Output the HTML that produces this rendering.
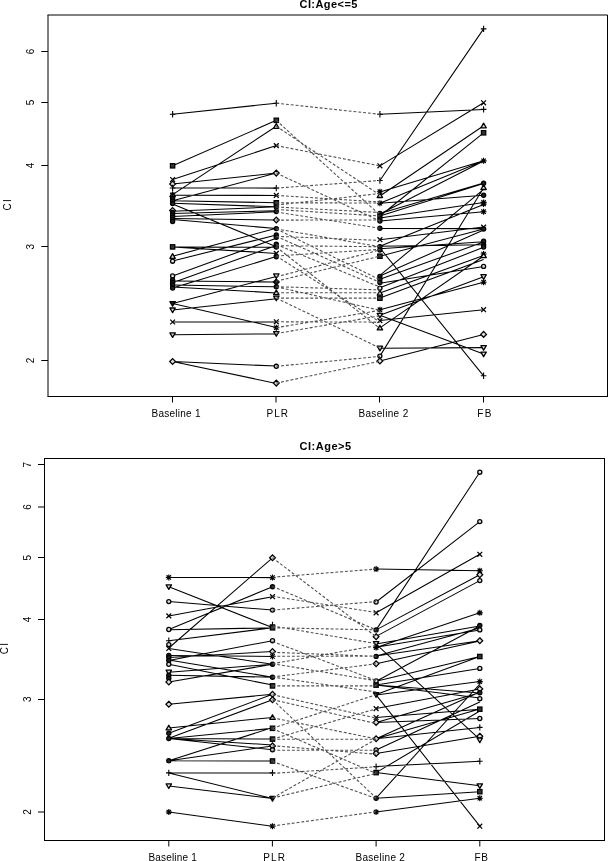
<!DOCTYPE html>
<html><head><meta charset="utf-8"><style>
html,body{margin:0;padding:0;background:#fff;}
svg{display:block;}
text{font-family:"Liberation Sans",Arial,sans-serif;fill:#000;}
.t{font-weight:bold;font-size:11px;}
.a{font-size:10px;}
</style></head><body>
<svg width="608" height="861" viewBox="0 0 608 861">
<rect width="608" height="861" fill="#fff"/>
<!-- top panel frame -->
<g fill="none" stroke="#000" stroke-width="1">
<path d="M48 15V396.5M47.5 15H607.5M607.5 15V396.5M47.5 396.5H608"/>
<path d="M41.3 51.5H48M41.3 102.5H48M41.3 165.5H48M41.3 246.5H48M41.3 360.5H48"/>
<path d="M172.5 396V402.5M276 396V402.5M379.5 396V402.5M483.5 396V402.5"/>
</g>
<!-- bottom panel frame -->
<g fill="none" stroke="#000" stroke-width="1">
<path d="M44.5 458V840.5M44 458.5H604.5M604.5 458V840.5M44 840.5H605"/>
<path d="M38 464.5H44.5M38 507H44.5M38 557.5H44.5M38 619.5H44.5M38 699.5H44.5M38 812H44.5"/>
<path d="M168.8 840.5V846.5M272.4 840.5V846.5M376.1 840.5V846.5M479.8 840.5V846.5"/>
</g>
<text class="t" x="299.5" y="8.2" textLength="57.9">CI:Age&lt;=5</text>
<text class="t" x="299.5" y="450.1" textLength="51.6">CI:Age&gt;5</text>
<g class="a">
<text class="a" transform="translate(34 51.4) rotate(-90)" text-anchor="middle">6</text>
<text class="a" transform="translate(34 102.4) rotate(-90)" text-anchor="middle">5</text>
<text class="a" transform="translate(34 165.5) rotate(-90)" text-anchor="middle">4</text>
<text class="a" transform="translate(34 246.7) rotate(-90)" text-anchor="middle">3</text>
<text class="a" transform="translate(34 360.5) rotate(-90)" text-anchor="middle">2</text>
<text class="a" transform="translate(10.9 204.9) rotate(-90)" text-anchor="middle" textLength="11.4">CI</text>
<text class="a" x="151.5" y="417" textLength="49">Baseline 1</text>
<text class="a" x="266.5" y="417" textLength="21.4">PLR</text>
<text class="a" x="358.4" y="417" textLength="49.8">Baseline 2</text>
<text class="a" x="477.2" y="417" textLength="14.2">FB</text>

<text class="a" transform="translate(30.9 464.7) rotate(-90)" text-anchor="middle">7</text>
<text class="a" transform="translate(30.9 507) rotate(-90)" text-anchor="middle">6</text>
<text class="a" transform="translate(30.9 557.6) rotate(-90)" text-anchor="middle">5</text>
<text class="a" transform="translate(30.9 619.5) rotate(-90)" text-anchor="middle">4</text>
<text class="a" transform="translate(30.9 699.3) rotate(-90)" text-anchor="middle">3</text>
<text class="a" transform="translate(30.9 812) rotate(-90)" text-anchor="middle">2</text>
<text class="a" transform="translate(8.4 648.6) rotate(-90)" text-anchor="middle" textLength="11.4">CI</text>
<text class="a" x="148.4" y="860.5" textLength="48.4">Baseline 1</text>
<text class="a" x="263.3" y="860.5" textLength="21.6">PLR</text>
<text class="a" x="355.5" y="860.5" textLength="49.4">Baseline 2</text>
<text class="a" x="474.4" y="860.5" textLength="13.4">FB</text>
</g>
<path d="M172.6 114.2L276.3 103.2M172.6 165.8L276.3 120.3M172.6 179.5L276.3 145.6M172.6 184.0L276.3 173.1M172.6 188.0L276.3 188.1M172.6 194.6L276.3 126.3M172.6 195.2L276.3 195.4M172.6 200.7L276.3 173.1M172.6 200.7L276.3 202.8M172.6 203.3L276.3 206.8M172.6 204.0L276.3 246.7M172.6 211.2L276.3 206.8M172.6 213.5L276.3 210.7M172.6 216.5L276.3 211.8M172.6 218.5L276.3 220.1M172.6 219.5L276.3 228.6M172.6 246.9L276.3 247.3M172.6 246.9L276.3 253.4M172.6 256.3L276.3 228.3M172.6 261.0L276.3 235.0M172.6 276.0L276.3 238.2M172.6 282.7L276.3 245.4M172.6 288.0L276.3 256.6M172.6 281.0L276.3 282.0M172.6 285.0L276.3 286.8M172.6 287.0L276.3 292.9M172.6 303.6L276.3 276.4M172.6 310.0L276.3 298.8M172.6 322.0L276.3 322.0M172.6 303.6L276.3 327.4M172.6 334.8L276.3 333.9M172.6 361.5L276.3 366.1M172.6 361.5L276.3 383.4" fill="none" stroke="#000" stroke-width="1.05"/>
<path d="M379.9 114.3L483.6 109.4M379.9 165.9L483.6 102.8M379.9 180.5L483.6 28.9M379.9 196.0L483.6 125.8M379.9 216.0L483.6 132.8M379.9 191.9L483.6 160.8M379.9 203.2L483.6 160.8M379.9 214.0L483.6 161.0M379.9 213.6L483.6 182.9M379.9 203.3L483.6 195.2M379.9 216.0L483.6 183.6M379.9 218.0L483.6 202.4M379.9 221.0L483.6 211.7M379.9 228.4L483.6 228.6M379.9 239.8L483.6 227.1M379.9 246.3L483.6 204.5M379.9 246.3L483.6 244.7M379.9 248.7L483.6 241.8M379.9 256.2L483.6 229.0M379.9 276.0L483.6 230.0M379.9 275.3L483.6 189.4M379.9 279.3L483.6 242.0M379.9 283.2L483.6 266.4M379.9 287.8L483.6 247.3M379.9 293.1L483.6 255.6M379.9 297.9L483.6 259.4M379.9 309.7L483.6 282.2M379.9 315.3L483.6 276.7M379.9 315.3L483.6 354.1M379.9 320.6L483.6 309.7M379.9 327.9L483.6 256.0M379.9 348.2L483.6 347.6M379.9 356.1L483.6 188.0M379.9 361.0L483.6 334.4M379.9 248.0L483.6 375.8" fill="none" stroke="#000" stroke-width="1.05"/>
<path d="M169.8 114.2H175.4M172.6 111.0V117.4" fill="none" stroke="#000" stroke-width="1.1"/>
<rect x="170.4" y="163.6" width="4.4" height="4.4" fill="#333" stroke="#000" stroke-width="1.2"/>
<path d="M170.2 177.1L175.0 181.9M170.2 181.9L175.0 177.1" fill="none" stroke="#000" stroke-width="1.25"/>
<path d="M172.6 181.1L175.5 184.0L172.6 186.9L169.7 184.0Z" fill="#ddd" stroke="#000" stroke-width="1.25"/>
<path d="M169.8 188.0H175.4M172.6 184.8V191.2" fill="none" stroke="#000" stroke-width="1.1"/>
<path d="M172.6 192.0L175.3 196.6H169.9Z" fill="#ddd" stroke="#000" stroke-width="1.3" stroke-linejoin="round"/>
<path d="M170.2 192.8L175.0 197.6M170.2 197.6L175.0 192.8" fill="none" stroke="#000" stroke-width="1.25"/>
<circle cx="172.6" cy="198.5" r="2.1" fill="#222" stroke="#000" stroke-width="1.2"/>
<circle cx="172.6" cy="201.0" r="2.1" fill="#222" stroke="#000" stroke-width="1.2"/>
<circle cx="172.6" cy="203.5" r="2.1" fill="#222" stroke="#000" stroke-width="1.2"/>
<path d="M172.6 207.6L175.5 210.5L172.6 213.4L169.7 210.5Z" fill="#ddd" stroke="#000" stroke-width="1.25"/>
<circle cx="172.6" cy="212.5" r="2.1" fill="#222" stroke="#000" stroke-width="1.2"/>
<circle cx="172.6" cy="215.0" r="2.1" fill="#222" stroke="#000" stroke-width="1.2"/>
<circle cx="172.6" cy="217.3" r="2.1" fill="#222" stroke="#000" stroke-width="1.2"/>
<circle cx="172.6" cy="219.6" r="2.1" fill="#222" stroke="#000" stroke-width="1.2"/>
<circle cx="172.6" cy="221.5" r="2.1" fill="#222" stroke="#000" stroke-width="1.2"/>
<rect x="170.4" y="244.7" width="4.4" height="4.4" fill="#333" stroke="#000" stroke-width="1.2"/>
<path d="M172.6 253.7L175.3 258.3H169.9Z" fill="#ddd" stroke="#000" stroke-width="1.3" stroke-linejoin="round"/>
<circle cx="172.6" cy="261.2" r="2.05" fill="#ddd" stroke="#000" stroke-width="1.3"/>
<circle cx="172.6" cy="276.0" r="2.05" fill="#ddd" stroke="#000" stroke-width="1.3"/>
<circle cx="172.6" cy="280.0" r="2.1" fill="#222" stroke="#000" stroke-width="1.2"/>
<circle cx="172.6" cy="282.5" r="2.1" fill="#222" stroke="#000" stroke-width="1.2"/>
<circle cx="172.6" cy="285.0" r="2.1" fill="#222" stroke="#000" stroke-width="1.2"/>
<circle cx="172.6" cy="288.0" r="2.1" fill="#222" stroke="#000" stroke-width="1.2"/>
<path d="M172.6 306.2L175.3 301.6H169.9Z" fill="#222" stroke="#000" stroke-width="1.3" stroke-linejoin="round"/>
<path d="M172.6 312.6L175.3 308.0H169.9Z" fill="#ddd" stroke="#000" stroke-width="1.3" stroke-linejoin="round"/>
<path d="M170.2 319.6L175.0 324.4M170.2 324.4L175.0 319.6" fill="none" stroke="#000" stroke-width="1.25"/>
<path d="M172.6 337.4L175.3 332.8H169.9Z" fill="#ddd" stroke="#000" stroke-width="1.3" stroke-linejoin="round"/>
<path d="M172.6 358.6L175.5 361.5L172.6 364.4L169.7 361.5Z" fill="#ddd" stroke="#000" stroke-width="1.25"/>
<path d="M273.5 103.2H279.1M276.3 100.0V106.4" fill="none" stroke="#000" stroke-width="1.1"/>
<rect x="274.1" y="118.1" width="4.4" height="4.4" fill="#333" stroke="#000" stroke-width="1.2"/>
<path d="M276.3 123.7L279.0 128.3H273.6Z" fill="#ddd" stroke="#000" stroke-width="1.3" stroke-linejoin="round"/>
<path d="M273.9 143.2L278.7 148.0M273.9 148.0L278.7 143.2" fill="none" stroke="#000" stroke-width="1.25"/>
<path d="M276.3 170.2L279.2 173.1L276.3 176.0L273.4 173.1Z" fill="#ddd" stroke="#000" stroke-width="1.25"/>
<path d="M273.5 188.1H279.1M276.3 184.9V191.3" fill="none" stroke="#000" stroke-width="1.1"/>
<path d="M273.9 193.0L278.7 197.8M273.9 197.8L278.7 193.0" fill="none" stroke="#000" stroke-width="1.25"/>
<rect x="274.1" y="200.6" width="4.4" height="4.4" fill="#333" stroke="#000" stroke-width="1.2"/>
<circle cx="276.3" cy="206.9" r="2.1" fill="#222" stroke="#000" stroke-width="1.2"/>
<circle cx="276.3" cy="211.5" r="2.1" fill="#222" stroke="#000" stroke-width="1.2"/>
<path d="M276.3 217.1L279.2 220.0L276.3 222.9L273.4 220.0Z" fill="#ddd" stroke="#000" stroke-width="1.25"/>
<circle cx="276.3" cy="228.6" r="2.1" fill="#222" stroke="#000" stroke-width="1.2"/>
<circle cx="276.3" cy="235.0" r="2.1" fill="#222" stroke="#000" stroke-width="1.2"/>
<circle cx="276.3" cy="237.3" r="2.1" fill="#222" stroke="#000" stroke-width="1.2"/>
<circle cx="276.3" cy="244.2" r="2.1" fill="#222" stroke="#000" stroke-width="1.2"/>
<circle cx="276.3" cy="247.0" r="2.1" fill="#222" stroke="#000" stroke-width="1.2"/>
<path d="M273.9 251.0L278.7 255.8M273.9 255.8L278.7 251.0" fill="none" stroke="#000" stroke-width="1.25"/>
<circle cx="276.3" cy="256.8" r="2.1" fill="#222" stroke="#000" stroke-width="1.2"/>
<path d="M276.3 278.5L279.0 273.9H273.6Z" fill="#ddd" stroke="#000" stroke-width="1.3" stroke-linejoin="round"/>
<path d="M276.3 279.1L279.2 282.0L276.3 284.9L273.4 282.0Z" fill="#222" stroke="#000" stroke-width="1.25"/>
<circle cx="276.3" cy="286.8" r="2.1" fill="#222" stroke="#000" stroke-width="1.2"/>
<path d="M276.3 290.1L279.0 294.7H273.6Z" fill="#ddd" stroke="#000" stroke-width="1.3" stroke-linejoin="round"/>
<path d="M276.3 300.7L279.0 296.1H273.6Z" fill="#ddd" stroke="#000" stroke-width="1.3" stroke-linejoin="round"/>
<path d="M273.9 319.4L278.7 324.2M273.9 324.2L278.7 319.4" fill="none" stroke="#000" stroke-width="1.25"/>
<path d="M273.3 327.7H279.3M276.3 324.7V330.7M274.1 325.5L278.5 329.9M274.1 329.9L278.5 325.5" fill="none" stroke="#000" stroke-width="1.15"/>
<path d="M276.3 336.2L279.0 331.6H273.6Z" fill="#ddd" stroke="#000" stroke-width="1.3" stroke-linejoin="round"/>
<circle cx="276.3" cy="366.3" r="2.05" fill="#ddd" stroke="#000" stroke-width="1.3"/>
<path d="M276.3 380.2L279.2 383.1L276.3 386.0L273.4 383.1Z" fill="#ddd" stroke="#000" stroke-width="1.25"/>
<path d="M377.1 114.3H382.7M379.9 111.1V117.5" fill="none" stroke="#000" stroke-width="1.1"/>
<path d="M377.5 163.4L382.3 168.2M377.5 168.2L382.3 163.4" fill="none" stroke="#000" stroke-width="1.25"/>
<path d="M377.1 180.5H382.7M379.9 177.3V183.7" fill="none" stroke="#000" stroke-width="1.1"/>
<path d="M376.9 191.7H382.9M379.9 188.7V194.7M377.7 189.5L382.1 193.9M377.7 193.9L382.1 189.5" fill="none" stroke="#000" stroke-width="1.15"/>
<path d="M379.9 192.9L382.6 197.5H377.2Z" fill="#ddd" stroke="#000" stroke-width="1.3" stroke-linejoin="round"/>
<path d="M376.9 203.2H382.9M379.9 200.2V206.2M377.7 201.0L382.1 205.4M377.7 205.4L382.1 201.0" fill="none" stroke="#000" stroke-width="1.15"/>
<circle cx="379.9" cy="213.5" r="2.1" fill="#222" stroke="#000" stroke-width="1.2"/>
<circle cx="379.9" cy="216.0" r="2.1" fill="#222" stroke="#000" stroke-width="1.2"/>
<circle cx="379.9" cy="218.5" r="2.1" fill="#222" stroke="#000" stroke-width="1.2"/>
<circle cx="379.9" cy="221.0" r="2.1" fill="#222" stroke="#000" stroke-width="1.2"/>
<circle cx="379.9" cy="228.3" r="2.1" fill="#222" stroke="#000" stroke-width="1.2"/>
<path d="M377.5 237.3L382.3 242.1M377.5 242.1L382.3 237.3" fill="none" stroke="#000" stroke-width="1.25"/>
<circle cx="379.9" cy="246.6" r="2.1" fill="#222" stroke="#000" stroke-width="1.2"/>
<circle cx="379.9" cy="250.0" r="2.1" fill="#222" stroke="#000" stroke-width="1.2"/>
<rect x="377.7" y="254.0" width="4.4" height="4.4" fill="#333" stroke="#000" stroke-width="1.2"/>
<circle cx="379.9" cy="276.5" r="2.1" fill="#222" stroke="#000" stroke-width="1.2"/>
<circle cx="379.9" cy="279.3" r="2.1" fill="#222" stroke="#000" stroke-width="1.2"/>
<circle cx="379.9" cy="282.4" r="2.1" fill="#222" stroke="#000" stroke-width="1.2"/>
<circle cx="379.9" cy="288.2" r="2.05" fill="#ddd" stroke="#000" stroke-width="1.3"/>
<path d="M379.9 290.5L382.6 295.1H377.2Z" fill="#ddd" stroke="#000" stroke-width="1.3" stroke-linejoin="round"/>
<rect x="377.7" y="296.0" width="4.4" height="4.4" fill="#333" stroke="#000" stroke-width="1.2"/>
<path d="M376.9 309.7H382.9M379.9 306.7V312.7M377.7 307.5L382.1 311.9M377.7 311.9L382.1 307.5" fill="none" stroke="#000" stroke-width="1.15"/>
<path d="M379.9 317.9L382.6 313.3H377.2Z" fill="#ddd" stroke="#000" stroke-width="1.3" stroke-linejoin="round"/>
<path d="M377.5 318.2L382.3 323.0M377.5 323.0L382.3 318.2" fill="none" stroke="#000" stroke-width="1.25"/>
<path d="M379.9 325.3L382.6 329.9H377.2Z" fill="#ddd" stroke="#000" stroke-width="1.3" stroke-linejoin="round"/>
<path d="M379.9 350.8L382.6 346.2H377.2Z" fill="#ddd" stroke="#000" stroke-width="1.3" stroke-linejoin="round"/>
<circle cx="379.9" cy="356.1" r="2.05" fill="#ddd" stroke="#000" stroke-width="1.3"/>
<path d="M379.9 358.1L382.8 361.0L379.9 363.9L377.0 361.0Z" fill="#ddd" stroke="#000" stroke-width="1.25"/>
<path d="M480.8 28.9H486.4M483.6 25.7V32.1" fill="none" stroke="#000" stroke-width="1.1"/>
<path d="M481.2 100.4L486.0 105.2M481.2 105.2L486.0 100.4" fill="none" stroke="#000" stroke-width="1.25"/>
<path d="M480.8 109.4H486.4M483.6 106.2V112.6" fill="none" stroke="#000" stroke-width="1.1"/>
<path d="M483.6 123.2L486.3 127.8H480.9Z" fill="#ddd" stroke="#000" stroke-width="1.3" stroke-linejoin="round"/>
<rect x="481.4" y="130.6" width="4.4" height="4.4" fill="#333" stroke="#000" stroke-width="1.2"/>
<path d="M480.6 160.8H486.6M483.6 157.8V163.8M481.4 158.6L485.8 163.0M481.4 163.0L485.8 158.6" fill="none" stroke="#000" stroke-width="1.15"/>
<circle cx="483.6" cy="183.3" r="2.1" fill="#222" stroke="#000" stroke-width="1.2"/>
<path d="M483.6 184.9L486.3 189.5H480.9Z" fill="#ddd" stroke="#000" stroke-width="1.3" stroke-linejoin="round"/>
<circle cx="483.6" cy="195.3" r="2.1" fill="#222" stroke="#000" stroke-width="1.2"/>
<path d="M480.6 202.4H486.6M483.6 199.4V205.4M481.4 200.2L485.8 204.6M481.4 204.6L485.8 200.2" fill="none" stroke="#000" stroke-width="1.15"/>
<path d="M480.6 204.0H486.6M483.6 201.0V207.0M481.4 201.8L485.8 206.2M481.4 206.2L485.8 201.8" fill="none" stroke="#000" stroke-width="1.15"/>
<path d="M480.6 211.7H486.6M483.6 208.7V214.7M481.4 209.5L485.8 213.9M481.4 213.9L485.8 209.5" fill="none" stroke="#000" stroke-width="1.15"/>
<path d="M481.2 224.7L486.0 229.5M481.2 229.5L486.0 224.7" fill="none" stroke="#000" stroke-width="1.25"/>
<circle cx="483.6" cy="229.0" r="2.1" fill="#222" stroke="#000" stroke-width="1.2"/>
<circle cx="483.6" cy="241.3" r="2.1" fill="#222" stroke="#000" stroke-width="1.2"/>
<circle cx="483.6" cy="244.7" r="2.1" fill="#222" stroke="#000" stroke-width="1.2"/>
<circle cx="483.6" cy="247.0" r="2.1" fill="#222" stroke="#000" stroke-width="1.2"/>
<path d="M480.6 254.0H486.6M483.6 251.0V257.0M481.4 251.8L485.8 256.2M481.4 256.2L485.8 251.8" fill="none" stroke="#000" stroke-width="1.15"/>
<path d="M483.6 253.0L486.3 257.6H480.9Z" fill="#ddd" stroke="#000" stroke-width="1.3" stroke-linejoin="round"/>
<circle cx="483.6" cy="266.4" r="2.05" fill="#ddd" stroke="#000" stroke-width="1.3"/>
<path d="M483.6 279.3L486.3 274.7H480.9Z" fill="#ddd" stroke="#000" stroke-width="1.3" stroke-linejoin="round"/>
<path d="M480.6 282.2H486.6M483.6 279.2V285.2M481.4 280.0L485.8 284.4M481.4 284.4L485.8 280.0" fill="none" stroke="#000" stroke-width="1.15"/>
<path d="M481.2 307.3L486.0 312.1M481.2 312.1L486.0 307.3" fill="none" stroke="#000" stroke-width="1.25"/>
<path d="M483.6 331.5L486.5 334.4L483.6 337.3L480.7 334.4Z" fill="#ddd" stroke="#000" stroke-width="1.25"/>
<path d="M483.6 350.2L486.3 345.6H480.9Z" fill="#ddd" stroke="#000" stroke-width="1.3" stroke-linejoin="round"/>
<path d="M483.6 356.7L486.3 352.1H480.9Z" fill="#ddd" stroke="#000" stroke-width="1.3" stroke-linejoin="round"/>
<path d="M480.8 375.8H486.4M483.6 372.6V379.0" fill="none" stroke="#000" stroke-width="1.1"/>
<path d="M276.3 103.2L379.9 114.3M276.3 145.6L379.9 165.9M276.3 120.3L379.9 215.0M276.3 126.3L379.9 195.0M276.3 173.1L379.9 221.0M276.3 188.1L379.9 180.5M276.3 195.4L379.9 202.0M276.3 202.8L379.9 203.0M276.3 205.0L379.9 193.5M276.3 207.0L379.9 212.5M276.3 209.5L379.9 216.0M276.3 212.0L379.9 228.3M276.3 220.1L379.9 220.0M276.3 228.9L379.9 246.7M276.3 228.9L379.9 279.7M276.3 236.3L379.9 240.4M276.3 236.3L379.9 282.4M276.3 245.7L379.9 246.7M276.3 244.5L379.9 287.0M276.3 256.0L379.9 249.4M276.3 256.0L379.9 322.0M276.3 247.0L379.9 328.4M276.3 276.8L379.9 250.0M276.3 281.2L379.9 256.2M276.3 286.7L379.9 289.9M276.3 286.8L379.9 310.3M276.3 292.7L379.9 292.7M276.3 298.1L379.9 298.1M276.3 298.1L379.9 348.0M276.3 321.8L379.9 322.1M276.3 327.7L379.9 310.3M276.3 333.6L379.9 315.8M276.3 366.3L379.9 356.4M276.3 383.1L379.9 361.2" fill="none" stroke="#505050" stroke-width="1.1" stroke-dasharray="2.9 1.95"/>
<path d="M168.8 577.4L272.5 577.6M168.8 586.8L272.5 627.6M168.8 601.6L272.5 610.1M168.8 615.9L272.5 596.7M168.8 629.5L272.5 586.8M168.8 629.8L272.5 627.8M168.8 640.7L272.5 627.8M168.8 648.0L272.5 557.8M168.8 648.5L272.5 664.3M168.8 655.5L272.5 656.4M168.8 657.4L272.5 651.5M168.8 660.4L272.5 640.7M168.8 664.3L272.5 685.1M168.8 660.0L272.5 677.2M168.8 672.2L272.5 664.3M168.8 675.2L272.5 677.2M168.8 682.1L272.5 664.3M168.8 704.2L272.5 694.3M168.8 733.2L272.5 694.3M168.8 738.3L272.5 699.7M168.8 727.9L272.5 717.4M168.8 738.5L272.5 728.3M168.8 738.5L272.5 739.1M168.8 738.5L272.5 745.0M168.8 760.7L272.5 727.6M168.8 760.7L272.5 745.9M168.8 760.7L272.5 761.0M168.8 772.9L272.5 772.9M168.8 772.9L272.5 798.5M168.8 785.9L272.5 798.5M168.8 812.0L272.5 826.2M168.8 738.5L272.5 749.8" fill="none" stroke="#000" stroke-width="1.05"/>
<path d="M376.1 569.0L479.8 570.7M376.1 602.0L479.8 521.6M376.1 612.8L479.8 554.3M376.1 629.9L479.8 472.2M376.1 629.9L479.8 574.7M376.1 636.4L479.8 580.6M376.1 647.6L479.8 612.8M376.1 644.1L479.8 625.9M376.1 647.2L479.8 629.9M376.1 644.1L479.8 739.4M376.1 656.1L479.8 628.0M376.1 656.1L479.8 640.7M376.1 681.2L479.8 626.0M376.1 681.2L479.8 656.5M376.1 685.1L479.8 668.4M376.1 685.1L479.8 693.0M376.1 694.6L479.8 656.5M376.1 694.8L479.8 826.2M376.1 684.9L479.8 698.0M376.1 708.6L479.8 688.9M376.1 717.5L479.8 709.2M376.1 722.4L479.8 692.8M376.1 722.4L479.8 718.5M376.1 738.8L479.8 692.0M376.1 738.8L479.8 709.0M376.1 738.8L479.8 727.4M376.1 753.4L479.8 736.2M376.1 749.9L479.8 701.9M376.1 766.6L479.8 761.3M376.1 772.6L479.8 711.0M376.1 772.6L479.8 785.8M376.1 798.2L479.8 684.0M376.1 798.2L479.8 791.7M376.1 812.0L479.8 798.2M376.1 663.8L479.8 641.0M376.1 695.0L479.8 681.6" fill="none" stroke="#000" stroke-width="1.05"/>
<path d="M165.8 577.4H171.8M168.8 574.4V580.4M166.6 575.2L171.0 579.6M166.6 579.6L171.0 575.2" fill="none" stroke="#000" stroke-width="1.15"/>
<path d="M168.8 589.4L171.5 584.8H166.1Z" fill="#ddd" stroke="#000" stroke-width="1.3" stroke-linejoin="round"/>
<circle cx="168.8" cy="601.6" r="2.05" fill="#ddd" stroke="#000" stroke-width="1.3"/>
<path d="M166.4 613.5L171.2 618.3M166.4 618.3L171.2 613.5" fill="none" stroke="#000" stroke-width="1.25"/>
<circle cx="168.8" cy="629.5" r="2.05" fill="#ddd" stroke="#000" stroke-width="1.3"/>
<path d="M166.0 640.7H171.6M168.8 637.5V643.9" fill="none" stroke="#000" stroke-width="1.1"/>
<circle cx="168.8" cy="644.6" r="2.05" fill="#ddd" stroke="#000" stroke-width="1.3"/>
<path d="M166.4 646.1L171.2 650.9M166.4 650.9L171.2 646.1" fill="none" stroke="#000" stroke-width="1.25"/>
<circle cx="168.8" cy="655.5" r="2.1" fill="#222" stroke="#000" stroke-width="1.2"/>
<circle cx="168.8" cy="657.4" r="2.1" fill="#222" stroke="#000" stroke-width="1.2"/>
<circle cx="168.8" cy="660.4" r="2.1" fill="#222" stroke="#000" stroke-width="1.2"/>
<circle cx="168.8" cy="664.3" r="2.05" fill="#ddd" stroke="#000" stroke-width="1.3"/>
<path d="M168.8 674.8L171.5 670.2H166.1Z" fill="#ddd" stroke="#000" stroke-width="1.3" stroke-linejoin="round"/>
<circle cx="168.8" cy="675.2" r="2.1" fill="#222" stroke="#000" stroke-width="1.2"/>
<circle cx="168.8" cy="678.2" r="2.1" fill="#222" stroke="#000" stroke-width="1.2"/>
<path d="M168.8 679.1L171.7 682.0L168.8 684.9L165.9 682.0Z" fill="#ddd" stroke="#000" stroke-width="1.25"/>
<path d="M168.8 701.3L171.7 704.2L168.8 707.1L165.9 704.2Z" fill="#ddd" stroke="#000" stroke-width="1.25"/>
<path d="M168.8 725.3L171.5 729.9H166.1Z" fill="#ddd" stroke="#000" stroke-width="1.3" stroke-linejoin="round"/>
<circle cx="168.8" cy="733.2" r="2.1" fill="#222" stroke="#000" stroke-width="1.2"/>
<circle cx="168.8" cy="738.5" r="2.1" fill="#222" stroke="#000" stroke-width="1.2"/>
<circle cx="168.8" cy="760.7" r="2.1" fill="#222" stroke="#000" stroke-width="1.2"/>
<path d="M166.0 772.9H171.6M168.8 769.7V776.1" fill="none" stroke="#000" stroke-width="1.1"/>
<path d="M168.8 788.5L171.5 783.9H166.1Z" fill="#ddd" stroke="#000" stroke-width="1.3" stroke-linejoin="round"/>
<path d="M165.8 812.0H171.8M168.8 809.0V815.0M166.6 809.8L171.0 814.2M166.6 814.2L171.0 809.8" fill="none" stroke="#000" stroke-width="1.15"/>
<path d="M272.5 554.9L275.4 557.8L272.5 560.7L269.6 557.8Z" fill="#ddd" stroke="#000" stroke-width="1.25"/>
<path d="M269.5 577.6H275.5M272.5 574.6V580.6M270.3 575.4L274.7 579.8M270.3 579.8L274.7 575.4" fill="none" stroke="#000" stroke-width="1.15"/>
<circle cx="272.5" cy="586.8" r="2.1" fill="#222" stroke="#000" stroke-width="1.2"/>
<path d="M270.1 594.3L274.9 599.1M270.1 599.1L274.9 594.3" fill="none" stroke="#000" stroke-width="1.25"/>
<circle cx="272.5" cy="610.1" r="2.05" fill="#ddd" stroke="#000" stroke-width="1.3"/>
<path d="M269.7 624.9H275.3M272.5 621.7V628.1" fill="none" stroke="#000" stroke-width="1.1"/>
<rect x="270.3" y="625.6" width="4.4" height="4.4" fill="#333" stroke="#000" stroke-width="1.2"/>
<circle cx="272.5" cy="640.7" r="2.05" fill="#ddd" stroke="#000" stroke-width="1.3"/>
<path d="M272.5 648.6L275.4 651.5L272.5 654.4L269.6 651.5Z" fill="#ddd" stroke="#000" stroke-width="1.25"/>
<path d="M269.5 656.4H275.5M272.5 653.4V659.4M270.3 654.2L274.7 658.6M270.3 658.6L274.7 654.2" fill="none" stroke="#000" stroke-width="1.15"/>
<circle cx="272.5" cy="664.3" r="2.1" fill="#222" stroke="#000" stroke-width="1.2"/>
<circle cx="272.5" cy="677.2" r="2.1" fill="#222" stroke="#000" stroke-width="1.2"/>
<rect x="270.3" y="683.7" width="4.4" height="4.4" fill="#333" stroke="#000" stroke-width="1.2"/>
<path d="M272.5 691.4L275.4 694.3L272.5 697.2L269.6 694.3Z" fill="#ddd" stroke="#000" stroke-width="1.25"/>
<path d="M272.5 696.8L275.4 699.7L272.5 702.6L269.6 699.7Z" fill="#ddd" stroke="#000" stroke-width="1.25"/>
<path d="M272.5 714.8L275.2 719.4H269.8Z" fill="#ddd" stroke="#000" stroke-width="1.3" stroke-linejoin="round"/>
<rect x="270.3" y="726.1" width="4.4" height="4.4" fill="#333" stroke="#000" stroke-width="1.2"/>
<rect x="270.3" y="736.9" width="4.4" height="4.4" fill="#333" stroke="#000" stroke-width="1.2"/>
<path d="M272.5 743.0L275.4 745.9L272.5 748.8L269.6 745.9Z" fill="#ddd" stroke="#000" stroke-width="1.25"/>
<circle cx="272.5" cy="749.8" r="2.05" fill="#ddd" stroke="#000" stroke-width="1.3"/>
<rect x="270.3" y="758.8" width="4.4" height="4.4" fill="#333" stroke="#000" stroke-width="1.2"/>
<path d="M269.7 772.9H275.3M272.5 769.7V776.1" fill="none" stroke="#000" stroke-width="1.1"/>
<path d="M272.5 801.1L275.2 796.5H269.8Z" fill="#222" stroke="#000" stroke-width="1.3" stroke-linejoin="round"/>
<path d="M269.5 826.2H275.5M272.5 823.2V829.2M270.3 824.0L274.7 828.4M270.3 828.4L274.7 824.0" fill="none" stroke="#000" stroke-width="1.15"/>
<path d="M373.1 569.1H379.1M376.1 566.1V572.1M373.9 566.9L378.3 571.3M373.9 571.3L378.3 566.9" fill="none" stroke="#000" stroke-width="1.15"/>
<circle cx="376.1" cy="602.0" r="2.05" fill="#ddd" stroke="#000" stroke-width="1.3"/>
<path d="M373.7 610.4L378.5 615.2M373.7 615.2L378.5 610.4" fill="none" stroke="#000" stroke-width="1.25"/>
<circle cx="376.1" cy="629.9" r="2.1" fill="#222" stroke="#000" stroke-width="1.2"/>
<path d="M376.1 633.8L379.0 636.7L376.1 639.6L373.2 636.7Z" fill="#ddd" stroke="#000" stroke-width="1.25"/>
<path d="M376.1 646.2L378.8 641.6H373.4Z" fill="#ddd" stroke="#000" stroke-width="1.3" stroke-linejoin="round"/>
<path d="M373.1 647.6H379.1M376.1 644.6V650.6M373.9 645.4L378.3 649.8M373.9 649.8L378.3 645.4" fill="none" stroke="#000" stroke-width="1.15"/>
<circle cx="376.1" cy="656.4" r="2.1" fill="#222" stroke="#000" stroke-width="1.2"/>
<path d="M376.1 660.9L379.0 663.8L376.1 666.7L373.2 663.8Z" fill="#ddd" stroke="#000" stroke-width="1.25"/>
<circle cx="376.1" cy="681.0" r="2.05" fill="#ddd" stroke="#000" stroke-width="1.3"/>
<rect x="373.9" y="682.9" width="4.4" height="4.4" fill="#333" stroke="#000" stroke-width="1.2"/>
<path d="M376.1 697.3L378.8 692.7H373.4Z" fill="#222" stroke="#000" stroke-width="1.3" stroke-linejoin="round"/>
<path d="M373.7 706.2L378.5 711.0M373.7 711.0L378.5 706.2" fill="none" stroke="#000" stroke-width="1.25"/>
<path d="M373.7 715.1L378.5 719.9M373.7 719.9L378.5 715.1" fill="none" stroke="#000" stroke-width="1.25"/>
<path d="M376.1 719.5L379.0 722.4L376.1 725.3L373.2 722.4Z" fill="#ddd" stroke="#000" stroke-width="1.25"/>
<path d="M376.1 735.9L379.0 738.8L376.1 741.7L373.2 738.8Z" fill="#ddd" stroke="#000" stroke-width="1.25"/>
<circle cx="376.1" cy="749.9" r="2.05" fill="#ddd" stroke="#000" stroke-width="1.3"/>
<path d="M376.1 750.5L379.0 753.4L376.1 756.3L373.2 753.4Z" fill="#ddd" stroke="#000" stroke-width="1.25"/>
<path d="M373.3 766.6H378.9M376.1 763.4V769.8" fill="none" stroke="#000" stroke-width="1.1"/>
<rect x="373.9" y="770.4" width="4.4" height="4.4" fill="#333" stroke="#000" stroke-width="1.2"/>
<circle cx="376.1" cy="798.2" r="2.1" fill="#222" stroke="#000" stroke-width="1.2"/>
<path d="M373.1 812.0H379.1M376.1 809.0V815.0M373.9 809.8L378.3 814.2M373.9 814.2L378.3 809.8" fill="none" stroke="#000" stroke-width="1.15"/>
<circle cx="479.8" cy="472.2" r="2.05" fill="#ddd" stroke="#000" stroke-width="1.3"/>
<circle cx="479.8" cy="521.6" r="2.05" fill="#ddd" stroke="#000" stroke-width="1.3"/>
<path d="M477.4 551.9L482.2 556.7M477.4 556.7L482.2 551.9" fill="none" stroke="#000" stroke-width="1.25"/>
<path d="M476.8 570.7H482.8M479.8 567.7V573.7M477.6 568.5L482.0 572.9M477.6 572.9L482.0 568.5" fill="none" stroke="#000" stroke-width="1.15"/>
<path d="M479.8 571.8L482.7 574.7L479.8 577.6L476.9 574.7Z" fill="#ddd" stroke="#000" stroke-width="1.25"/>
<circle cx="479.8" cy="580.6" r="2.05" fill="#ddd" stroke="#000" stroke-width="1.3"/>
<path d="M476.8 612.8H482.8M479.8 609.8V615.8M477.6 610.6L482.0 615.0M477.6 615.0L482.0 610.6" fill="none" stroke="#000" stroke-width="1.15"/>
<circle cx="479.8" cy="625.4" r="2.1" fill="#222" stroke="#000" stroke-width="1.2"/>
<circle cx="479.8" cy="629.9" r="2.05" fill="#ddd" stroke="#000" stroke-width="1.3"/>
<path d="M479.8 637.8L482.7 640.7L479.8 643.6L476.9 640.7Z" fill="#ddd" stroke="#000" stroke-width="1.25"/>
<rect x="477.6" y="654.3" width="4.4" height="4.4" fill="#333" stroke="#000" stroke-width="1.2"/>
<circle cx="479.8" cy="668.4" r="2.05" fill="#ddd" stroke="#000" stroke-width="1.3"/>
<path d="M476.8 681.6H482.8M479.8 678.6V684.6M477.6 679.4L482.0 683.8M477.6 683.8L482.0 679.4" fill="none" stroke="#000" stroke-width="1.15"/>
<path d="M479.8 686.0L482.7 688.9L479.8 691.8L476.9 688.9Z" fill="#ddd" stroke="#000" stroke-width="1.25"/>
<circle cx="479.8" cy="692.8" r="2.1" fill="#222" stroke="#000" stroke-width="1.2"/>
<circle cx="479.8" cy="698.7" r="2.05" fill="#ddd" stroke="#000" stroke-width="1.3"/>
<rect x="477.6" y="707.0" width="4.4" height="4.4" fill="#333" stroke="#000" stroke-width="1.2"/>
<circle cx="479.8" cy="718.5" r="2.05" fill="#ddd" stroke="#000" stroke-width="1.3"/>
<path d="M477.0 727.4H482.6M479.8 724.2V730.6" fill="none" stroke="#000" stroke-width="1.1"/>
<path d="M479.8 733.3L482.7 736.2L479.8 739.1L476.9 736.2Z" fill="#ddd" stroke="#000" stroke-width="1.25"/>
<path d="M479.8 742.6L482.5 738.0H477.1Z" fill="#ddd" stroke="#000" stroke-width="1.3" stroke-linejoin="round"/>
<path d="M477.0 761.3H482.6M479.8 758.1V764.5" fill="none" stroke="#000" stroke-width="1.1"/>
<path d="M479.8 788.4L482.5 783.8H477.1Z" fill="#ddd" stroke="#000" stroke-width="1.3" stroke-linejoin="round"/>
<rect x="477.6" y="789.5" width="4.4" height="4.4" fill="#333" stroke="#000" stroke-width="1.2"/>
<path d="M476.8 798.2H482.8M479.8 795.2V801.2M477.6 796.0L482.0 800.4M477.6 800.4L482.0 796.0" fill="none" stroke="#000" stroke-width="1.15"/>
<path d="M477.4 823.8L482.2 828.6M477.4 828.6L482.2 823.8" fill="none" stroke="#000" stroke-width="1.25"/>
<path d="M272.5 557.8L376.1 636.7M272.5 577.2L376.1 569.1M272.5 586.4L376.1 629.8M272.5 596.3L376.1 612.5M272.5 610.1L376.1 601.6M272.5 627.8L376.1 629.8M272.5 625.9L376.1 643.6M272.5 641.5L376.1 680.5M272.5 652.3L376.1 656.3M272.5 656.3L376.1 656.3M272.5 663.7L376.1 645.7M272.5 663.7L376.1 680.7M272.5 677.0L376.1 663.8M272.5 677.0L376.1 692.0M272.5 685.9L376.1 685.9M272.5 694.7L376.1 718.1M272.5 699.6L376.1 798.0M272.5 699.6L376.1 723.6M272.5 717.8L376.1 738.9M272.5 728.2L376.1 694.7M272.5 728.6L376.1 773.4M272.5 739.1L376.1 708.8M272.5 739.2L376.1 739.2M272.5 745.7L376.1 754.2M272.5 750.3L376.1 750.3M272.5 761.5L376.1 798.4M272.5 773.4L376.1 766.8M272.5 798.0L376.1 739.2M272.5 798.0L376.1 773.4M272.5 826.0L376.1 811.8" fill="none" stroke="#505050" stroke-width="1.1" stroke-dasharray="2.9 1.95"/>
</svg>
</body></html>
